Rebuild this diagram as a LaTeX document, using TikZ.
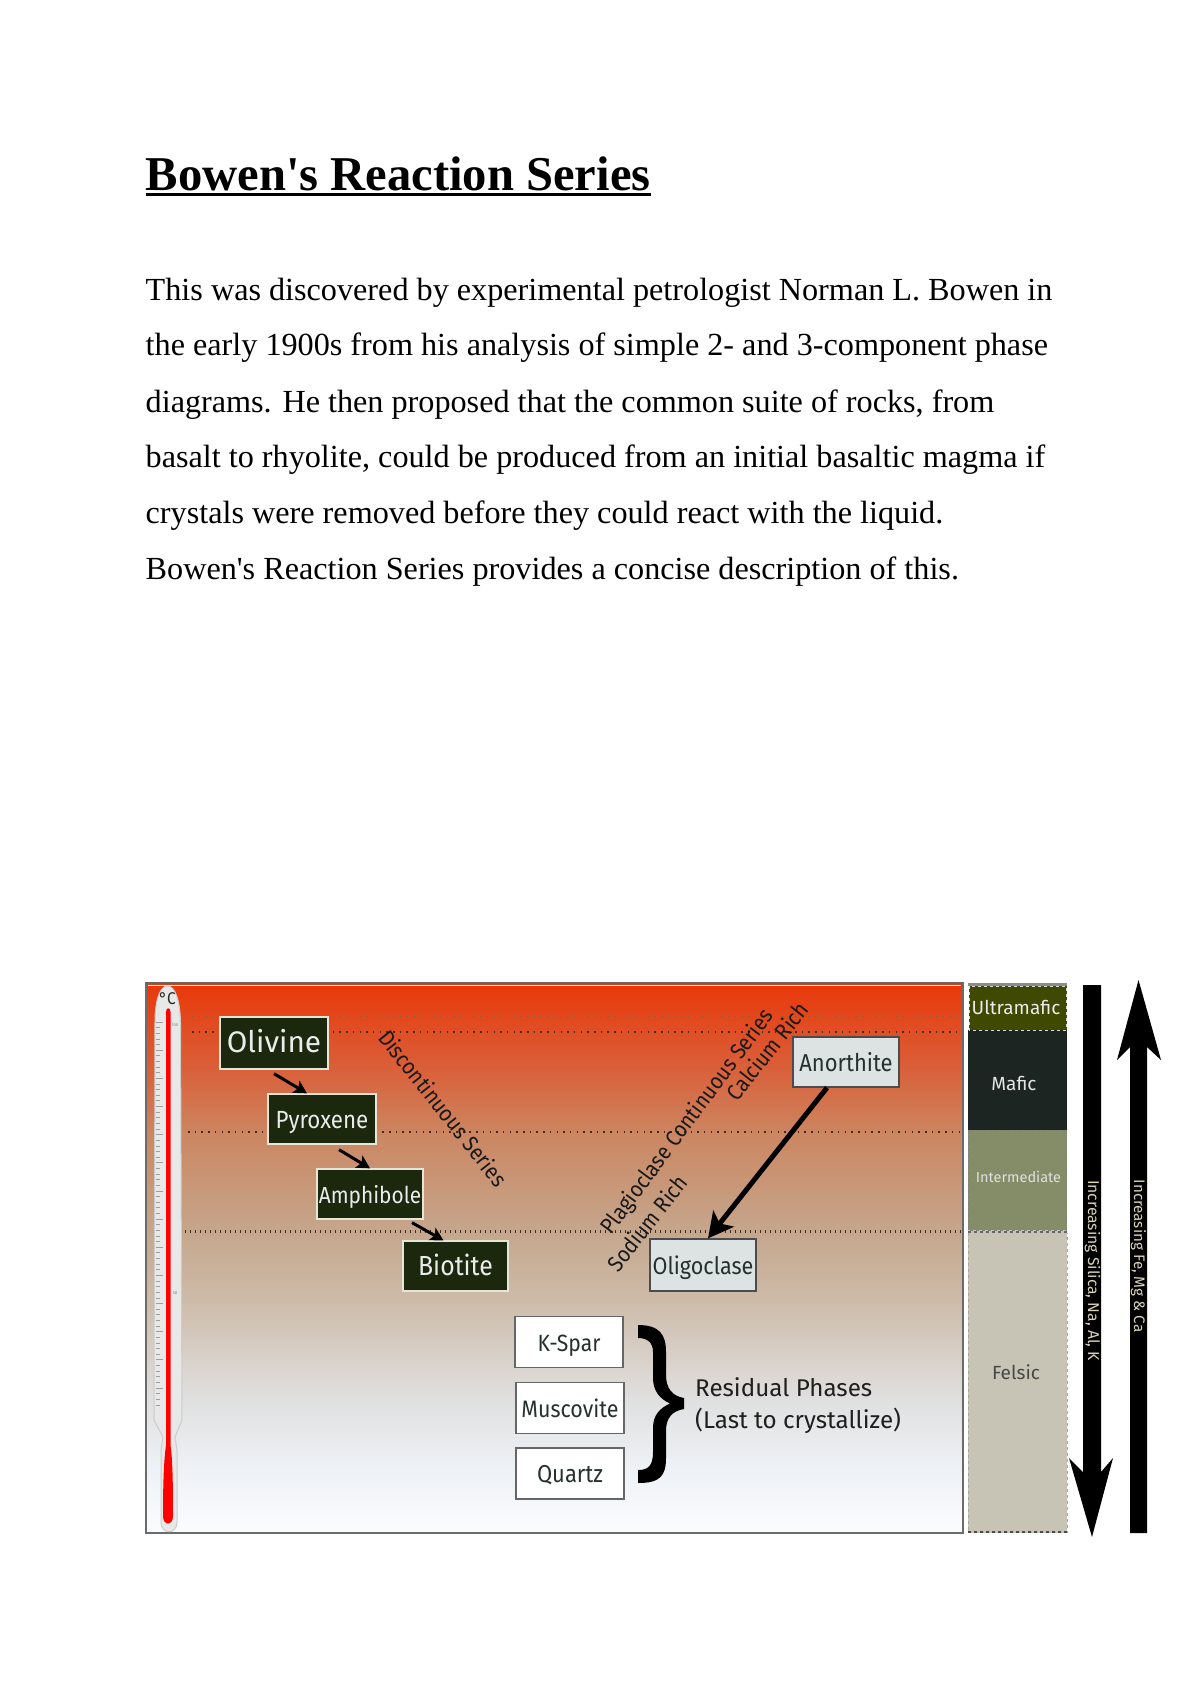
\documentclass[tikz,border=0pt]{standalone}
\usepackage{fontspec}
\newfontfamily\bodyf{Liberation Serif}
\newfontfamily\diag{Fira Sans}
\newfontfamily\diagn[FakeStretch=0.9]{Fira Sans}
\usetikzlibrary{arrows.meta,calc}
\definecolor{bgA}{HTML}{FBFCFE}
\definecolor{bgB}{HTML}{EEF2F6}
\definecolor{bgC}{HTML}{E0E0E0}
\definecolor{bgD}{HTML}{CDBBA9}
\definecolor{bgE}{HTML}{C5A68C}
\definecolor{bgF}{HTML}{CC8560}
\definecolor{bgG}{HTML}{D9603A}
\definecolor{bgH}{HTML}{E9380A}
\pgfdeclareverticalshading{bowenbg}{100bp}{
 color(0bp)=(bgA); color(25bp)=(bgA); color(30.75bp)=(bgB); color(37.13bp)=(bgC);
 color(46.26bp)=(bgD); color(52.55bp)=(bgE); color(61.59bp)=(bgF); color(67.25bp)=(bgG);
 color(75bp)=(bgH); color(100bp)=(bgH)}
\definecolor{darkbox}{HTML}{1B280D}
\definecolor{darkedge}{HTML}{E6E6D8}
\definecolor{palebox}{HTML}{DCE3E2}
\definecolor{ink}{HTML}{26302C}
\definecolor{barinkc}{HTML}{D8D2B8}
\tikzset{
  x=1pt,y=-1pt,
  bodyline/.style={anchor=base west,inner sep=0pt,font=\bodyf\fontsize{32.2}{32}\selectfont},
  boxlabel/.style={inner sep=0pt,text height=18.4pt,text depth=0pt},
  darkm/.style={boxlabel,draw=darkedge,line width=1.3pt,fill=darkbox,text=white!92!black,minimum width=#1,minimum height=50pt},
  palem/.style={boxlabel,draw=black!70,line width=1.3pt,fill=palebox,text=ink,minimum width=#1,minimum height=50pt},
  whitem/.style={boxlabel,draw=black!60,line width=1.3pt,fill=white,text=ink,minimum width=#1,minimum height=51pt},
  tinyarrow/.style={line width=3pt,-{Stealth[length=13pt,width=14pt,inset=3pt]}},
  dotline/.style={line width=1.6pt,draw=black!65!brown,dash pattern=on 1.5pt off 5.2pt},
  seriestext/.style={inner sep=0pt,text=black!90,font=\diagn\fontsize{22.4}{22}\selectfont},
  bandbox/.style={draw=#1,line width=1pt,dashed},
  bandtext/.style={inner sep=0pt},
  bartext/.style={inner sep=0pt,rotate=-90,text=barinkc},
}
\begin{document}
\begin{tikzpicture}
\useasboundingbox (0,0) rectangle (1200,1698);
\fill[white] (0,0) rectangle (1200,1698);

% heading and paragraph
\node[anchor=base west,inner sep=0pt,font=\bodyf\fontsize{48.6}{48}\selectfont\bfseries] (title) at (145.5,190) {Bowen's Reaction Series};
\draw[line width=3pt] ([yshift=-4.5pt]title.base west) -- ([yshift=-4.5pt]title.base east);
\node[bodyline] (l1) at (145.5,300) {This was discovered by experimental petrologist Norman L. Bowen in};
\node[bodyline] (l2) at (145.5,355) {the early 1900s from his analysis of simple 2- and 3-component phase};
\node[bodyline] (l3) at (145.5,412) {diagrams. He then proposed that the common suite of rocks, from};
\node[bodyline] (l4) at (145.5,467) {basalt to rhyolite, could be produced from an initial basaltic magma if};
\node[bodyline] (l5) at (145.5,523) {crystals were removed before they could react with the liquid.};
\node[bodyline] (l6) at (145.5,579) {Bowen's Reaction Series provides a concise description of this.};

% main panel
\shade[shading=bowenbg] (146,984) rectangle (963,1533);
\draw[black!58,line width=1.8pt] (146,1533) -- (146,983) -- (963,983) -- (963,1533) -- cycle;
\draw[black!60,line width=2.4pt] (146,983) -- (963,983);
\draw[white,line width=1pt] (148,985.5) -- (961,985.5);

% dotted levels
\draw[dotline,black!25!brown,line width=.8pt] (192,1016) -- (962,1016);
\draw[dotline] (192,1032) -- (962,1032);
\draw[dotline] (188,1132) -- (962,1132);
\draw[dotline,line width=3pt,dash pattern=on 1pt off 4pt] (185,1231) -- (962,1231);

% thermometer
\draw[fill=black!9,draw=black!20,line width=1pt]
  (155,1022) .. controls (155,1000) and (160,986) .. (167.5,986)
  .. controls (175,986) and (180,1000) .. (180.5,1022)
  -- (182,1420) -- (175,1437) -- (177,1450) -- (177,1522)
  .. controls (177,1535) and (161,1535) .. (161,1522)
  -- (161,1450) -- (163,1437) -- (154,1420) -- cycle;
\foreach \k in {0,...,68}{
  \pgfmathsetmacro{\yy}{1022+\k*5.63}
  \pgfmathsetmacro{\xx}{mod(\k,5)==0 ? 163 : 160}
  \draw[black!38,line width=.7pt] (155.5,\yy) -- (\xx,\yy);
}
\fill[red] (166,1012) .. controls (166,1007) and (170.5,1007) .. (170.5,1012)
  -- (170.5,1445) .. controls (172.5,1460) and (173,1480) .. (173,1516)
  .. controls (173,1526) and (163,1526) .. (163,1516)
  .. controls (163,1480) and (164,1460) .. (166,1445) -- cycle;
\node[inner sep=0pt,text=black!85,font=\diagn\fontsize{17}{17}\selectfont] (deg) at (167.5,999) {°C};
\node[inner sep=0pt,text=black!50,font=\diag\fontsize{4}{4}\selectfont] (t100) at (175,1025) {100};
\node[inner sep=0pt,text=black!50,font=\diag\fontsize{4}{4}\selectfont] (t50) at (175,1293) {50};

% minerals, discontinuous branch
\node[darkm=108pt,minimum height=52pt,font=\diag\fontsize{29.7}{29}\selectfont] (olivine) at (274,1043) {Olivine};
\node[darkm=108pt,font=\diagn\fontsize{24.8}{24}\selectfont] (pyroxene) at (322,1119) {Pyroxene};
\node[darkm=106pt,font=\diagn\fontsize{23.2}{24}\selectfont] (amphibole) at (370,1194) {Amphibole};
\node[darkm=105pt,font=\diagn\fontsize{27.6}{27}\selectfont] (biotite) at (455.5,1266) {Biotite};
\draw[tinyarrow] ([yshift=-4pt]olivine.south) -- ([xshift=-15pt]pyroxene.north);
\draw[tinyarrow] ([shift={(17pt,-5pt)}]pyroxene.south) -- (amphibole.north);
\draw[tinyarrow] ([shift={(42pt,-3pt)}]amphibole.south) -- ([xshift=-12pt]biotite.north);
\node[seriestext,rotate=-51.7] (disc) at (443.5,1108) {Discontinuous Series};

% minerals, continuous branch
\node[palem=106pt,font=\diagn\fontsize{24.4}{24}\selectfont] (anorthite) at (846,1062) {Anorthite};
\node[palem=106pt,minimum height=52pt,font=\diagn\fontsize{24}{24}\selectfont] (oligoclase) at (703,1265) {Oligoclase};
\draw[line width=5pt,-{Stealth[length=25pt,width=26pt,inset=6pt]}] ([xshift=-19pt]anorthite.south) -- ([xshift=5pt]oligoclase.north);
\node[seriestext,rotate=53.5] (plag) at (688,1122) {Plagioclase Continuous Series};
\node[seriestext,rotate=51.5] (calcium) at (767,1051) {Calcium Rich};
\node[seriestext,rotate=51.5] (sodium) at (647,1223) {Sodium Rich};

% residual phases
\node[whitem=108pt,font=\diagn\fontsize{23.5}{23}\selectfont] (kspar) at (569,1342) {K-Spar};
\node[whitem=108pt,font=\diagn\fontsize{23.8}{23}\selectfont] (muscovite) at (570,1408) {Muscovite};
\node[whitem=108pt,font=\diagn\fontsize{24.4}{23}\selectfont] (quartz) at (570,1473.5) {Quartz};
\fill[black] (638,1325) .. controls (660,1325) and (666,1335) .. (666,1352)
  -- (666,1375) .. controls (666,1388) and (672,1396) .. (684,1398)
  -- (684,1409) .. controls (672,1411) and (666,1418) .. (666,1431)
  -- (666,1458) .. controls (666,1476) and (660,1483) .. (638,1483)
  -- (638,1470) .. controls (648,1470) and (653,1466) .. (653,1452)
  -- (653,1428) .. controls (653,1415) and (660,1408) .. (670,1403.5)
  .. controls (660,1399) and (653,1391) .. (653,1378)
  -- (653,1352) .. controls (653,1343) and (648,1338) .. (638,1338) -- cycle;
\node[anchor=west,inner sep=0pt,align=left,text=black!88,font=\diag\fontsize{24.2}{32}\selectfont] (resid) at (695,1405.5) {Residual Phases\\(Last to crystallize)};

% rock-type column
\fill[black!45] (968,983) rectangle (1067,986);
\path[fill={rgb,255:red,63;green,74;blue,0}] (969,986) rectangle (1067,1030);
\path[fill={rgb,255:red,28;green,37;blue,34}] (968,1030) rectangle (1067,1130);
\path[fill={rgb,255:red,133;green,140;blue,104}] (968,1130) rectangle (1067,1230);
\path[fill={rgb,255:red,199;green,195;blue,181}] (968,1230) rectangle (1067,1533);
\draw[bandbox=white!85!black] (969,986) rectangle (1066,1030);
\draw[bandbox=black!50] (968,1130) rectangle (1066,1230);
\draw[bandbox=black!35] (968,1233) -- (968,1532) -- (1067,1532) -- (1067,1233);
\draw[black!60,line width=2pt,dashed] (968,1232) -- (1067,1232);
\draw[black!70,line width=2pt,dashed] (968,1532) -- (1067,1532);
\node[bandtext,text=white!92!black,font=\diag\fontsize{19}{19}\selectfont] (ultra) at (1016,1007) {Ultramafic};
\node[bandtext,text=white!90!black,font=\diag\fontsize{19}{19}\selectfont] (mafic) at (1014,1083) {Mafic};
\node[bandtext,text=white!88!black,font=\diag\fontsize{14.5}{15}\selectfont] (inter) at (1018.5,1177) {Intermediate};
\node[bandtext,text=black!72,font=\diag\fontsize{19}{19}\selectfont] (felsic) at (1016,1372) {Felsic};

% big trend arrows
\fill[black] (1083,985) -- (1101,985) -- (1101,1472) -- (1113,1458) -- (1092,1537) -- (1069,1458) -- (1083,1472) -- cycle;
\fill[black] (1130,1533) -- (1147,1533) -- (1147,1047) -- (1161,1060) -- (1138.5,980) -- (1117,1060) -- (1130,1047) -- cycle;
\node[bartext,font=\diag\fontsize{15.7}{15}\selectfont] (silica) at (1092.5,1270.5) {Increasing Silica, Na, Al, K};
\node[bartext,font=\diag\fontsize{15.2}{15}\selectfont] (femg) at (1138.5,1256) {Increasing Fe, Mg \& Ca};
\end{tikzpicture}
\end{document}
